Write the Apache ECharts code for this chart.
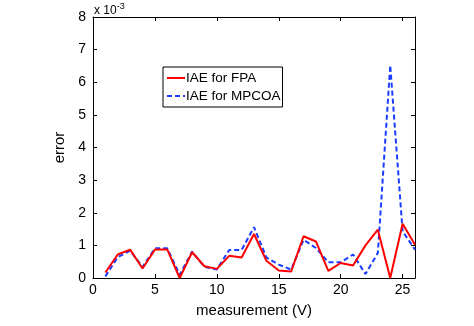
<!DOCTYPE html>
<html><head><meta charset="utf-8">
<script src="https://cdn.jsdelivr.net/npm/echarts@6/dist/echarts.min.js"></script>
<style>html,body{margin:0;padding:0;background:#fff}#c{width:474px;height:326px}</style>
</head><body><div id="c"></div>
<script>
var measurements = [1,2,3,4,5,6,7,8,9,10,11,12,13,14,15,16,17,18,19,20,21,22,23,24,25,26];
var iaeFPA   = [0.17,0.72,0.87,0.29,0.87,0.87,0.00,0.79,0.36,0.28,0.68,0.63,1.35,0.53,0.23,0.20,1.28,1.12,0.22,0.46,0.38,1.00,1.48,0.00,1.66,1.02];
var iaeMPCOA = [0.05,0.64,0.84,0.34,0.91,0.91,0.10,0.81,0.34,0.26,0.86,0.86,1.56,0.63,0.41,0.26,1.17,0.92,0.48,0.48,0.72,0.12,0.77,6.52,1.43,0.87];
var xTicks = [0,5,10,15,20,25];
var yTicks = [0,1,2,3,4,5,6,7,8];
var seriesNames = ['IAE for FPA','IAE for MPCOA'];

var font = '"Liberation Sans", Arial, sans-serif';
function pairs(ys){ return measurements.map(function(x,i){ return [x, ys[i]]; }); }

var chart = echarts.init(document.getElementById('c'), null, {renderer:'canvas'});
chart.setOption({
  animation:false,
  backgroundColor:'#fff',
  grid:{left:93,top:17,width:322,height:261,containLabel:false},
  legend:{
    data:seriesNames, orient:'vertical', left:163, top:67,
    itemWidth:18, itemHeight:10, itemGap:4,
    itemStyle:{opacity:0},
    borderColor:'#000', borderWidth:1, padding:[4,2,4,3],
    textStyle:{fontFamily:font,fontSize:13.5,color:'#000',padding:[0,0,0,-4]},
    backgroundColor:'#fff'
  },
  xAxis:[{
    type:'value', min:0, max:26, position:'bottom',
    name:'measurement (V)', nameLocation:'middle', nameGap:25,
    nameTextStyle:{fontFamily:font,fontSize:15,color:'#000'},
    axisLine:{show:true,onZero:false,lineStyle:{color:'#000',width:1}},
    axisTick:{show:true,inside:true,length:4,customValues:xTicks,lineStyle:{color:'#000'}},
    axisLabel:{customValues:xTicks,fontFamily:font,fontSize:14,color:'#000',margin:5},
    splitLine:{show:false}
  },{
    type:'value', min:0, max:26, position:'top',
    axisLine:{show:true,onZero:false,lineStyle:{color:'#000',width:1}},
    axisTick:{show:true,inside:true,length:4,customValues:xTicks,lineStyle:{color:'#000'}},
    axisLabel:{show:false}, splitLine:{show:false}
  }],
  yAxis:[{
    type:'value', min:0, max:8, interval:1, position:'left',
    name:'error', nameLocation:'middle', nameGap:19, nameRotate:90,
    nameTextStyle:{fontFamily:font,fontSize:15,color:'#000'},
    axisLine:{show:true,onZero:false,lineStyle:{color:'#000',width:1}},
    axisTick:{show:true,inside:true,length:4,customValues:yTicks,lineStyle:{color:'#000'}},
    axisLabel:{customValues:yTicks,fontFamily:font,fontSize:14,color:'#000',margin:7},
    splitLine:{show:false}
  },{
    type:'value', min:0, max:8, interval:1, position:'right',
    axisLine:{show:true,onZero:false,lineStyle:{color:'#000',width:1}},
    axisTick:{show:true,inside:true,length:4,customValues:yTicks,lineStyle:{color:'#000'}},
    axisLabel:{show:false}, splitLine:{show:false}
  }],
  graphic:[{
    type:'text', left:94, top:2,
    style:{
      text:'{a|x 10}{b|-3}',
      rich:{
        a:{fontFamily:font,fontSize:12,color:'#000',verticalAlign:'bottom'},
        b:{fontFamily:font,fontSize:9,color:'#000',verticalAlign:'top',padding:[0,0,6,0]}
      }
    }
  }],
  series:[{
    name:seriesNames[0], type:'line', data:pairs(iaeFPA),
    symbol:'none', xAxisIndex:0, yAxisIndex:0,
    lineStyle:{color:'#ff0000',width:2}, itemStyle:{color:'#ff0000'}, z:3
  },{
    name:seriesNames[1], type:'line', data:pairs(iaeMPCOA),
    symbol:'none', xAxisIndex:0, yAxisIndex:0,
    lineStyle:{color:'#1a3cff',width:2,type:[5,3]}, itemStyle:{color:'#1a3cff'}, z:2
  }]
});
</script></body></html>
